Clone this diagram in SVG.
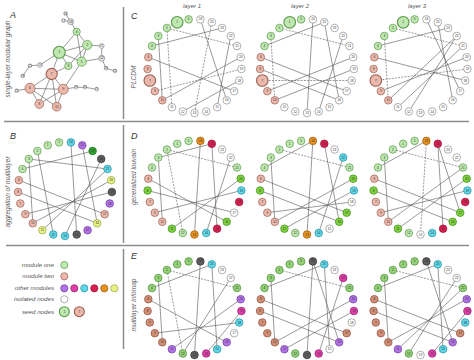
<svg xmlns="http://www.w3.org/2000/svg" width="474" height="360" viewBox="0 0 474 360">
<style>
text{font-family:"Liberation Sans",Arial,sans-serif}
.let{font-size:9px;font-style:italic;fill:#333}
.ttl{font-size:6px;font-style:italic;fill:#555;text-anchor:middle}
.side{font-size:6.5px;font-style:italic;fill:#666;text-anchor:middle}
.lg{font-size:6.2px;font-style:italic;fill:#555;text-anchor:end}
.div{stroke:#8c8c8c;stroke-width:1.5;fill:none}
.ed line{stroke:#555;stroke-width:0.6}
.ed .d{stroke-dasharray:2 1.2}
.n circle{stroke-width:0.7}
.n text{font-size:3.2px;fill:#333;text-anchor:middle;dominant-baseline:central}
.n .big{stroke-width:1.1}
.g{fill:#bfe8b0;stroke:#5a9a4a}
.s{fill:#ebb8ac;stroke:#9a5e50}
.w{fill:#fff;stroke:#8e8e8e}
.gr{fill:#e2e2e2;stroke:#8a8a8a}
.gb{fill:#7ed33c;stroke:#3e8a1e}
.or{fill:#e8921e;stroke:#9a5a10}
.cr{fill:#dc1e50;stroke:#8a1030}
.cy{fill:#5ed8e8;stroke:#2a8c9c}
.pu{fill:#b472e8;stroke:#6c3a9c}
.mg{fill:#e03caa;stroke:#8c2064}
.dk{fill:#5e5e5e;stroke:#333}
.yl{fill:#e6f284;stroke:#9aa444}
.dg{fill:#2fa52f;stroke:#1a6a1a}
.eg{fill:#93d276;stroke:#4c8c3c}
.es{fill:#d38f76;stroke:#8c4c38}
</style>

<!-- dividers -->
<g id="dividers" class="div">
<line x1="4" y1="121.5" x2="469" y2="121.5"/>
<line x1="6" y1="245.5" x2="469" y2="245.5"/>
<line x1="123.5" y1="7" x2="123.5" y2="119"/>
<line x1="123.5" y1="125" x2="123.5" y2="243"/>
<line x1="123.5" y1="249" x2="123.5" y2="349"/>
</g>

<!-- titles -->
<text class="let" x="10" y="18">A</text>
<text class="let" x="10" y="139">B</text>
<text class="let" x="131" y="19">C</text>
<text class="let" x="131" y="139">D</text>
<text class="let" x="131" y="259">E</text>
<text class="ttl" x="192" y="7.5">layer 1</text>
<text class="ttl" x="300" y="7.5">layer 2</text>
<text class="ttl" x="417" y="7.5">layer 3</text>
<text class="side" transform="translate(10,59) rotate(-90)">single-layer modular graph</text>
<text class="side" transform="translate(10,192) rotate(-90)">aggregation of multilayer</text>
<text class="side" transform="translate(136,77) rotate(-90)">PLCDM</text>
<text class="side" transform="translate(136,177) rotate(-90)">generalized louvain</text>
<text class="side" transform="translate(136,305) rotate(-90)">multilayer infomap</text>

<!-- Panel A -->
<g id="panelA">
<g class="ed" id="A-edges">
<line x1="76.7" y1="31.7" x2="59.3" y2="52.3"/>
<line x1="76.7" y1="31.7" x2="87.3" y2="45"/>
<line x1="76.7" y1="31.7" x2="81.7" y2="61.7"/>
<line x1="76.7" y1="31.7" x2="70.7" y2="21.7"/>
<line x1="70.7" y1="21.7" x2="63.5" y2="20.5"/>
<line x1="70.7" y1="21.7" x2="65.5" y2="13.5"/>
<line x1="59.3" y1="52.3" x2="87.3" y2="45"/>
<line x1="59.3" y1="52.3" x2="68.3" y2="66"/>
<line x1="59.3" y1="52.3" x2="81.7" y2="61.7"/>
<line x1="87.3" y1="45" x2="81.7" y2="61.7"/>
<line x1="87.3" y1="45" x2="68.3" y2="66"/>
<line x1="87.3" y1="45" x2="101.7" y2="46"/>
<line x1="101.7" y1="46" x2="101.7" y2="58.3"/>
<line x1="81.7" y1="61.7" x2="101.7" y2="58.3"/>
<line x1="101.7" y1="58.3" x2="106" y2="68.3"/>
<line x1="106" y1="68.3" x2="115" y2="71"/>
<line x1="59.3" y1="52.3" x2="40" y2="65"/>
<line x1="40" y1="65" x2="30" y2="65.7"/>
<line x1="30" y1="65.7" x2="22.7" y2="76"/>
<line x1="59.3" y1="52.3" x2="51.7" y2="74"/>
<line x1="68.3" y1="66" x2="51.7" y2="74"/>
<line x1="51.7" y1="74" x2="30" y2="88.3"/>
<line x1="51.7" y1="74" x2="63.3" y2="89.3"/>
<line x1="51.7" y1="74" x2="39.3" y2="104"/>
<line x1="51.7" y1="74" x2="56.7" y2="106.7"/>
<line x1="30" y1="88.3" x2="63.3" y2="89.3"/>
<line x1="30" y1="88.3" x2="39.3" y2="104"/>
<line x1="30" y1="88.3" x2="56.7" y2="106.7"/>
<line x1="63.3" y1="89.3" x2="56.7" y2="106.7"/>
<line x1="63.3" y1="89.3" x2="39.3" y2="104"/>
<line x1="30" y1="88.3" x2="16.7" y2="90.7"/>
<line x1="63.3" y1="89.3" x2="76" y2="87.3"/>
<line x1="76" y1="87.3" x2="85" y2="87.3"/>
<line x1="85" y1="87.3" x2="96.7" y2="89.3"/>
<line x1="81.7" y1="61.7" x2="63.3" y2="89.3"/>
</g>
<g id="A-4" class="n"><circle class="g" cx="76.7" cy="31.7" r="3.6"/><text x="76.7" y="31.7">4</text></g>
<g id="A-2" class="n"><circle class="g" cx="87.3" cy="45" r="4.6"/><text x="87.3" y="45">2</text></g>
<g id="A-1" class="n"><circle class="g big" cx="59.3" cy="52.3" r="6"/><text x="59.3" y="52.3">1</text></g>
<g id="A-3" class="n"><circle class="g" cx="68.3" cy="66" r="3.6"/><text x="68.3" y="66">3</text></g>
<g id="A-5" class="n"><circle class="g" cx="81.7" cy="61.7" r="4.6"/><text x="81.7" y="61.7">5</text></g>
<g id="A-7" class="n"><circle class="s big" cx="51.7" cy="74" r="5.6"/><text x="51.7" y="74">7</text></g>
<g id="A-6" class="n"><circle class="s" cx="30" cy="88.3" r="5"/><text x="30" y="88.3">6</text></g>
<g id="A-9" class="n"><circle class="s" cx="63.3" cy="89.3" r="5"/><text x="63.3" y="89.3">9</text></g>
<g id="A-8" class="n"><circle class="s" cx="39.3" cy="104" r="4.4"/><text x="39.3" y="104">8</text></g>
<g id="A-10" class="n"><circle class="s" cx="56.7" cy="106.7" r="4.4"/><text x="56.7" y="106.7">10</text></g>
<g id="A-13" class="n"><circle class="gr" cx="70.7" cy="21.7" r="3"/><text x="70.7" y="21.7">13</text></g>
<g id="A-17" class="n"><circle class="w" cx="63.5" cy="20.5" r="1.8"/><text x="63.5" y="20.5">17</text></g>
<g id="A-18" class="n"><circle class="w" cx="65.5" cy="13.5" r="1.8"/><text x="65.5" y="13.5">18</text></g>
<g id="A-11" class="n"><circle class="w" cx="101.7" cy="46" r="2.4"/><text x="101.7" y="46">11</text></g>
<g id="A-12" class="n"><circle class="gr" cx="101.7" cy="58.3" r="3"/><text x="101.7" y="58.3">12</text></g>
<g id="A-24" class="n"><circle class="w" cx="106" cy="68.3" r="1.8"/><text x="106" y="68.3">24</text></g>
<g id="A-25" class="n"><circle class="w" cx="115" cy="71" r="1.8"/><text x="115" y="71">25</text></g>
<g id="A-14" class="n"><circle class="w" cx="40" cy="65" r="2.4"/><text x="40" y="65">14</text></g>
<g id="A-15" class="n"><circle class="w" cx="30" cy="65.7" r="1.8"/><text x="30" y="65.7">15</text></g>
<g id="A-16" class="n"><circle class="w" cx="22.7" cy="76" r="1.8"/><text x="22.7" y="76">16</text></g>
<g id="A-22" class="n"><circle class="w" cx="16.7" cy="90.7" r="1.8"/><text x="16.7" y="90.7">22</text></g>
<g id="A-19" class="n"><circle class="w" cx="76" cy="87.3" r="1.8"/><text x="76" y="87.3">19</text></g>
<g id="A-20" class="n"><circle class="w" cx="85" cy="87.3" r="1.8"/><text x="85" y="87.3">20</text></g>
<g id="A-21" class="n"><circle class="w" cx="96.7" cy="89.3" r="1.8"/><text x="96.7" y="89.3">21</text></g>
</g>

<!-- Legend -->
<g id="legend">
<text class="lg" x="54" y="267">module one</text>
<text class="lg" x="54" y="278">module two</text>
<text class="lg" x="54" y="290">other modules</text>
<text class="lg" x="54" y="301">isolated nodes</text>
<text class="lg" x="54" y="313.5">seed nodes</text>
<g class="n">
<circle class="g" cx="64.3" cy="265" r="3.6"/>
<circle class="s" cx="64.3" cy="276.3" r="3.6"/>
<circle class="pu" cx="64.3" cy="288.3" r="3.6"/>
<circle class="mg" cx="74.3" cy="288.3" r="3.6"/>
<circle class="cy" cx="84.3" cy="288.3" r="3.6"/>
<circle class="cr" cx="94.3" cy="288.3" r="3.6"/>
<circle class="or" cx="104.3" cy="288.3" r="3.6"/>
<circle class="yl" cx="114.3" cy="288.3" r="3.6"/>
<circle class="w" cx="64.3" cy="299.3" r="3.6"/>
<circle class="g big" cx="64.3" cy="311.7" r="5"/><text x="64.3" y="311.7">1</text>
<circle class="s big" cx="79.3" cy="311.7" r="5"/><text x="79.3" y="311.7">7</text>
</g>
</g>

<!-- Panel B -->
<g id="panelB" transform="translate(65,189)">
<g class="ed" id="B-edges">
<line x1="-42.5" y1="-20" x2="27.6" y2="-38"/>
<line x1="-36.2" y1="-30" x2="42.5" y2="-20"/>
<line x1="-27.6" y1="-38" x2="-11.7" y2="45.5"/>
<line x1="-36.2" y1="-30" x2="-32.2" y2="34.3"/>
<line x1="5.9" y1="-46.6" x2="11.7" y2="45.5"/>
<line x1="17.3" y1="-43.7" x2="32.2" y2="34.3"/>
<line x1="-46.2" y1="-8.8" x2="39.7" y2="25.2"/>
<line x1="-46.9" y1="3" x2="32.2" y2="34.3"/>
<line x1="-32.2" y1="34.3" x2="46.2" y2="-8.8"/>
<line x1="-22.6" y1="41.2" x2="42.5" y2="-20"/>
<line x1="-39.7" y1="25.2" x2="46.9" y2="3"/>
<line x1="36.2" y1="-30" x2="0" y2="47"/>
</g>
<g id="B-k0" class="n"><circle class="cy" cx="5.9" cy="-46.6" r="3.8"/><text x="5.9" y="-46.6">24</text></g>
<g id="B-k1" class="n"><circle class="pu" cx="17.3" cy="-43.7" r="3.8"/><text x="17.3" y="-43.7">25</text></g>
<g id="B-k2" class="n"><circle class="dg" cx="27.6" cy="-38" r="3.8"/><text x="27.6" y="-38">23</text></g>
<g id="B-k3" class="n"><circle class="dk" cx="36.2" cy="-30" r="3.8"/><text x="36.2" y="-30">22</text></g>
<g id="B-k4" class="n"><circle class="cy" cx="42.5" cy="-20" r="3.8"/><text x="42.5" y="-20">21</text></g>
<g id="B-k5" class="n"><circle class="yl" cx="46.2" cy="-8.8" r="3.8"/><text x="46.2" y="-8.8">20</text></g>
<g id="B-k6" class="n"><circle class="dk" cx="46.9" cy="3" r="3.8"/><text x="46.9" y="3">19</text></g>
<g id="B-k7" class="n"><circle class="pu" cx="44.7" cy="14.5" r="3.8"/><text x="44.7" y="14.5">18</text></g>
<g id="B-k8" class="n"><circle class="s" cx="39.7" cy="25.2" r="3.8"/><text x="39.7" y="25.2">17</text></g>
<g id="B-k9" class="n"><circle class="yl" cx="32.2" cy="34.3" r="3.8"/><text x="32.2" y="34.3">16</text></g>
<g id="B-k10" class="n"><circle class="pu" cx="22.6" cy="41.2" r="3.8"/><text x="22.6" y="41.2">15</text></g>
<g id="B-k11" class="n"><circle class="dk" cx="11.7" cy="45.5" r="3.8"/><text x="11.7" y="45.5">14</text></g>
<g id="B-k12" class="n"><circle class="cy" cx="0" cy="47" r="3.8"/><text x="0" y="47">13</text></g>
<g id="B-k13" class="n"><circle class="cy" cx="-11.7" cy="45.5" r="3.8"/><text x="-11.7" y="45.5">12</text></g>
<g id="B-k14" class="n"><circle class="yl" cx="-22.6" cy="41.2" r="3.8"/><text x="-22.6" y="41.2">11</text></g>
<g id="B-k15" class="n"><circle class="s" cx="-32.2" cy="34.3" r="3.8"/><text x="-32.2" y="34.3">10</text></g>
<g id="B-k16" class="n"><circle class="s" cx="-39.7" cy="25.2" r="3.8"/><text x="-39.7" y="25.2">9</text></g>
<g id="B-k17" class="n"><circle class="s" cx="-44.7" cy="14.5" r="3.8"/><text x="-44.7" y="14.5">7</text></g>
<g id="B-k18" class="n"><circle class="s" cx="-46.9" cy="3" r="3.8"/><text x="-46.9" y="3">8</text></g>
<g id="B-k19" class="n"><circle class="s" cx="-46.2" cy="-8.8" r="3.8"/><text x="-46.2" y="-8.8">6</text></g>
<g id="B-k20" class="n"><circle class="g" cx="-42.5" cy="-20" r="3.8"/><text x="-42.5" y="-20">4</text></g>
<g id="B-k21" class="n"><circle class="g" cx="-36.2" cy="-30" r="3.8"/><text x="-36.2" y="-30">3</text></g>
<g id="B-k22" class="n"><circle class="g" cx="-27.6" cy="-38" r="3.8"/><text x="-27.6" y="-38">2</text></g>
<g id="B-k23" class="n"><circle class="g" cx="-17.3" cy="-43.7" r="3.8"/><text x="-17.3" y="-43.7">1</text></g>
<g id="B-k24" class="n"><circle class="g" cx="-5.9" cy="-46.6" r="3.8"/><text x="-5.9" y="-46.6">5</text></g>
</g>

<!-- Panel C layer 1 -->
<g id="panelC1" transform="translate(194.5,66)">
<g class="ed" id="C1-edges">
<line class="d" x1="-27.6" y1="-38" x2="42.5" y2="-20"/>
<line x1="-42.5" y1="-20" x2="27.6" y2="-38"/>
<line class="d" x1="-27.6" y1="-38" x2="-22.6" y2="41.2"/>
<line x1="-36.2" y1="-30" x2="-32.2" y2="34.3"/>
<line x1="5.9" y1="-46.6" x2="32.2" y2="34.3"/>
<line class="d" x1="17.3" y1="-43.7" x2="0" y2="47"/>
<line x1="-46.2" y1="-8.8" x2="39.7" y2="25.2"/>
<line x1="-32.2" y1="34.3" x2="46.2" y2="-8.8"/>
<line x1="36.2" y1="-30" x2="22.6" y2="41.2"/>
<line class="d" x1="-39.7" y1="25.2" x2="46.9" y2="3"/>
<line x1="-11.7" y1="45.5" x2="44.7" y2="14.5"/>
</g>
<g id="C1-k0" class="n"><circle class="w" cx="5.9" cy="-46.6" r="3.8"/><text x="5.9" y="-46.6">24</text></g>
<g id="C1-k1" class="n"><circle class="w" cx="17.3" cy="-43.7" r="3.8"/><text x="17.3" y="-43.7">25</text></g>
<g id="C1-k2" class="n"><circle class="w" cx="27.6" cy="-38" r="3.8"/><text x="27.6" y="-38">23</text></g>
<g id="C1-k3" class="n"><circle class="w" cx="36.2" cy="-30" r="3.8"/><text x="36.2" y="-30">22</text></g>
<g id="C1-k4" class="n"><circle class="w" cx="42.5" cy="-20" r="3.8"/><text x="42.5" y="-20">21</text></g>
<g id="C1-k5" class="n"><circle class="w" cx="46.2" cy="-8.8" r="3.8"/><text x="46.2" y="-8.8">20</text></g>
<g id="C1-k6" class="n"><circle class="w" cx="46.9" cy="3" r="3.8"/><text x="46.9" y="3">19</text></g>
<g id="C1-k7" class="n"><circle class="w" cx="44.7" cy="14.5" r="3.8"/><text x="44.7" y="14.5">18</text></g>
<g id="C1-k8" class="n"><circle class="w" cx="39.7" cy="25.2" r="3.8"/><text x="39.7" y="25.2">17</text></g>
<g id="C1-k9" class="n"><circle class="w" cx="32.2" cy="34.3" r="3.8"/><text x="32.2" y="34.3">16</text></g>
<g id="C1-k10" class="n"><circle class="w" cx="22.6" cy="41.2" r="3.8"/><text x="22.6" y="41.2">15</text></g>
<g id="C1-k11" class="n"><circle class="w" cx="11.7" cy="45.5" r="3.8"/><text x="11.7" y="45.5">14</text></g>
<g id="C1-k12" class="n"><circle class="w" cx="0" cy="47" r="3.8"/><text x="0" y="47">13</text></g>
<g id="C1-k13" class="n"><circle class="w" cx="-11.7" cy="45.5" r="3.8"/><text x="-11.7" y="45.5">12</text></g>
<g id="C1-k14" class="n"><circle class="w" cx="-22.6" cy="41.2" r="3.8"/><text x="-22.6" y="41.2">11</text></g>
<g id="C1-k15" class="n"><circle class="s" cx="-32.2" cy="34.3" r="3.8"/><text x="-32.2" y="34.3">10</text></g>
<g id="C1-k16" class="n"><circle class="s" cx="-39.7" cy="25.2" r="3.8"/><text x="-39.7" y="25.2">9</text></g>
<g id="C1-k17" class="n"><circle class="s big" cx="-44.7" cy="14.5" r="5.8"/><text x="-44.7" y="14.5">7</text></g>
<g id="C1-k18" class="n"><circle class="s" cx="-46.9" cy="3" r="3.8"/><text x="-46.9" y="3">8</text></g>
<g id="C1-k19" class="n"><circle class="s" cx="-46.2" cy="-8.8" r="3.8"/><text x="-46.2" y="-8.8">6</text></g>
<g id="C1-k20" class="n"><circle class="g" cx="-42.5" cy="-20" r="3.8"/><text x="-42.5" y="-20">4</text></g>
<g id="C1-k21" class="n"><circle class="g" cx="-36.2" cy="-30" r="3.8"/><text x="-36.2" y="-30">3</text></g>
<g id="C1-k22" class="n"><circle class="g" cx="-27.6" cy="-38" r="3.8"/><text x="-27.6" y="-38">2</text></g>
<g id="C1-k23" class="n"><circle class="g big" cx="-17.3" cy="-43.7" r="5.8"/><text x="-17.3" y="-43.7">1</text></g>
<g id="C1-k24" class="n"><circle class="g" cx="-5.9" cy="-46.6" r="3.8"/><text x="-5.9" y="-46.6">5</text></g>
</g>

<!-- Panel C layer 2 -->
<g id="panelC2" transform="translate(307,66)">
<g class="ed" id="C2-edges">
<line class="d" x1="-27.6" y1="-38" x2="42.5" y2="-20"/>
<line x1="-42.5" y1="-20" x2="17.3" y2="-43.7"/>
<line class="d" x1="-36.2" y1="-30" x2="-32.2" y2="34.3"/>
<line x1="5.9" y1="-46.6" x2="0" y2="47"/>
<line x1="17.3" y1="-43.7" x2="32.2" y2="34.3"/>
<line x1="-46.2" y1="-8.8" x2="39.7" y2="25.2"/>
<line x1="-46.9" y1="3" x2="32.2" y2="34.3"/>
<line x1="-39.7" y1="25.2" x2="46.2" y2="-8.8"/>
<line x1="-32.2" y1="34.3" x2="46.9" y2="3"/>
<line x1="36.2" y1="-30" x2="11.7" y2="45.5"/>
<line class="d" x1="-44.7" y1="14.5" x2="44.7" y2="14.5"/>
</g>
<g id="C2-k0" class="n"><circle class="w" cx="5.9" cy="-46.6" r="3.8"/><text x="5.9" y="-46.6">24</text></g>
<g id="C2-k1" class="n"><circle class="w" cx="17.3" cy="-43.7" r="3.8"/><text x="17.3" y="-43.7">25</text></g>
<g id="C2-k2" class="n"><circle class="w" cx="27.6" cy="-38" r="3.8"/><text x="27.6" y="-38">23</text></g>
<g id="C2-k3" class="n"><circle class="w" cx="36.2" cy="-30" r="3.8"/><text x="36.2" y="-30">22</text></g>
<g id="C2-k4" class="n"><circle class="w" cx="42.5" cy="-20" r="3.8"/><text x="42.5" y="-20">21</text></g>
<g id="C2-k5" class="n"><circle class="w" cx="46.2" cy="-8.8" r="3.8"/><text x="46.2" y="-8.8">20</text></g>
<g id="C2-k6" class="n"><circle class="w" cx="46.9" cy="3" r="3.8"/><text x="46.9" y="3">19</text></g>
<g id="C2-k7" class="n"><circle class="w" cx="44.7" cy="14.5" r="3.8"/><text x="44.7" y="14.5">18</text></g>
<g id="C2-k8" class="n"><circle class="w" cx="39.7" cy="25.2" r="3.8"/><text x="39.7" y="25.2">17</text></g>
<g id="C2-k9" class="n"><circle class="w" cx="32.2" cy="34.3" r="3.8"/><text x="32.2" y="34.3">16</text></g>
<g id="C2-k10" class="n"><circle class="w" cx="22.6" cy="41.2" r="3.8"/><text x="22.6" y="41.2">15</text></g>
<g id="C2-k11" class="n"><circle class="w" cx="11.7" cy="45.5" r="3.8"/><text x="11.7" y="45.5">14</text></g>
<g id="C2-k12" class="n"><circle class="w" cx="0" cy="47" r="3.8"/><text x="0" y="47">13</text></g>
<g id="C2-k13" class="n"><circle class="w" cx="-11.7" cy="45.5" r="3.8"/><text x="-11.7" y="45.5">12</text></g>
<g id="C2-k14" class="n"><circle class="w" cx="-22.6" cy="41.2" r="3.8"/><text x="-22.6" y="41.2">11</text></g>
<g id="C2-k15" class="n"><circle class="s" cx="-32.2" cy="34.3" r="3.8"/><text x="-32.2" y="34.3">10</text></g>
<g id="C2-k16" class="n"><circle class="s" cx="-39.7" cy="25.2" r="3.8"/><text x="-39.7" y="25.2">9</text></g>
<g id="C2-k17" class="n"><circle class="s big" cx="-44.7" cy="14.5" r="5.8"/><text x="-44.7" y="14.5">7</text></g>
<g id="C2-k18" class="n"><circle class="s" cx="-46.9" cy="3" r="3.8"/><text x="-46.9" y="3">8</text></g>
<g id="C2-k19" class="n"><circle class="s" cx="-46.2" cy="-8.8" r="3.8"/><text x="-46.2" y="-8.8">6</text></g>
<g id="C2-k20" class="n"><circle class="g" cx="-42.5" cy="-20" r="3.8"/><text x="-42.5" y="-20">4</text></g>
<g id="C2-k21" class="n"><circle class="g" cx="-36.2" cy="-30" r="3.8"/><text x="-36.2" y="-30">3</text></g>
<g id="C2-k22" class="n"><circle class="g" cx="-27.6" cy="-38" r="3.8"/><text x="-27.6" y="-38">2</text></g>
<g id="C2-k23" class="n"><circle class="g big" cx="-17.3" cy="-43.7" r="5.8"/><text x="-17.3" y="-43.7">1</text></g>
<g id="C2-k24" class="n"><circle class="g" cx="-5.9" cy="-46.6" r="3.8"/><text x="-5.9" y="-46.6">5</text></g>
</g>

<!-- Panel C layer 3 -->
<g id="panelC3" transform="translate(420.5,66)">
<g class="ed" id="C3-edges">
<line x1="-42.5" y1="-20" x2="27.6" y2="-38"/>
<line class="d" x1="-27.6" y1="-38" x2="42.5" y2="-20"/>
<line x1="17.3" y1="-43.7" x2="32.2" y2="34.3"/>
<line x1="5.9" y1="-46.6" x2="39.7" y2="25.2"/>
<line class="d" x1="-36.2" y1="-30" x2="-32.2" y2="34.3"/>
<line x1="-46.2" y1="-8.8" x2="44.7" y2="14.5"/>
<line x1="-32.2" y1="34.3" x2="36.2" y2="-30"/>
<line x1="-39.7" y1="25.2" x2="46.2" y2="-8.8"/>
<line class="d" x1="-44.7" y1="14.5" x2="46.9" y2="3"/>
<line x1="-11.7" y1="45.5" x2="36.2" y2="-30"/>
<line x1="-22.6" y1="41.2" x2="42.5" y2="-20"/>
</g>
<g id="C3-k0" class="n"><circle class="w" cx="5.9" cy="-46.6" r="3.8"/><text x="5.9" y="-46.6">24</text></g>
<g id="C3-k1" class="n"><circle class="w" cx="17.3" cy="-43.7" r="3.8"/><text x="17.3" y="-43.7">25</text></g>
<g id="C3-k2" class="n"><circle class="w" cx="27.6" cy="-38" r="3.8"/><text x="27.6" y="-38">23</text></g>
<g id="C3-k3" class="n"><circle class="w" cx="36.2" cy="-30" r="3.8"/><text x="36.2" y="-30">22</text></g>
<g id="C3-k4" class="n"><circle class="w" cx="42.5" cy="-20" r="3.8"/><text x="42.5" y="-20">21</text></g>
<g id="C3-k5" class="n"><circle class="w" cx="46.2" cy="-8.8" r="3.8"/><text x="46.2" y="-8.8">20</text></g>
<g id="C3-k6" class="n"><circle class="w" cx="46.9" cy="3" r="3.8"/><text x="46.9" y="3">19</text></g>
<g id="C3-k7" class="n"><circle class="w" cx="44.7" cy="14.5" r="3.8"/><text x="44.7" y="14.5">18</text></g>
<g id="C3-k8" class="n"><circle class="w" cx="39.7" cy="25.2" r="3.8"/><text x="39.7" y="25.2">17</text></g>
<g id="C3-k9" class="n"><circle class="w" cx="32.2" cy="34.3" r="3.8"/><text x="32.2" y="34.3">16</text></g>
<g id="C3-k10" class="n"><circle class="w" cx="22.6" cy="41.2" r="3.8"/><text x="22.6" y="41.2">15</text></g>
<g id="C3-k11" class="n"><circle class="w" cx="11.7" cy="45.5" r="3.8"/><text x="11.7" y="45.5">14</text></g>
<g id="C3-k12" class="n"><circle class="w" cx="0" cy="47" r="3.8"/><text x="0" y="47">13</text></g>
<g id="C3-k13" class="n"><circle class="w" cx="-11.7" cy="45.5" r="3.8"/><text x="-11.7" y="45.5">12</text></g>
<g id="C3-k14" class="n"><circle class="w" cx="-22.6" cy="41.2" r="3.8"/><text x="-22.6" y="41.2">11</text></g>
<g id="C3-k15" class="n"><circle class="s" cx="-32.2" cy="34.3" r="3.8"/><text x="-32.2" y="34.3">10</text></g>
<g id="C3-k16" class="n"><circle class="s" cx="-39.7" cy="25.2" r="3.8"/><text x="-39.7" y="25.2">9</text></g>
<g id="C3-k17" class="n"><circle class="s big" cx="-44.7" cy="14.5" r="5.8"/><text x="-44.7" y="14.5">7</text></g>
<g id="C3-k18" class="n"><circle class="s" cx="-46.9" cy="3" r="3.8"/><text x="-46.9" y="3">8</text></g>
<g id="C3-k19" class="n"><circle class="s" cx="-46.2" cy="-8.8" r="3.8"/><text x="-46.2" y="-8.8">6</text></g>
<g id="C3-k20" class="n"><circle class="g" cx="-42.5" cy="-20" r="3.8"/><text x="-42.5" y="-20">4</text></g>
<g id="C3-k21" class="n"><circle class="g" cx="-36.2" cy="-30" r="3.8"/><text x="-36.2" y="-30">3</text></g>
<g id="C3-k22" class="n"><circle class="g" cx="-27.6" cy="-38" r="3.8"/><text x="-27.6" y="-38">2</text></g>
<g id="C3-k23" class="n"><circle class="g big" cx="-17.3" cy="-43.7" r="5.8"/><text x="-17.3" y="-43.7">1</text></g>
<g id="C3-k24" class="n"><circle class="g" cx="-5.9" cy="-46.6" r="3.8"/><text x="-5.9" y="-46.6">5</text></g>
</g>

<!-- Panel D layer 1 -->
<g id="panelD1" transform="translate(194.5,187.5)">
<g class="ed" id="D1-edges">
<line class="d" x1="-27.6" y1="-38" x2="42.5" y2="-20"/>
<line x1="-36.2" y1="-30" x2="17.3" y2="-43.7"/>
<line class="d" x1="-27.6" y1="-38" x2="-11.7" y2="45.5"/>
<line x1="-36.2" y1="-30" x2="-32.2" y2="34.3"/>
<line x1="5.9" y1="-46.6" x2="0" y2="47"/>
<line x1="17.3" y1="-43.7" x2="22.6" y2="41.2"/>
<line x1="-46.2" y1="-8.8" x2="32.2" y2="34.3"/>
<line x1="-22.6" y1="41.2" x2="46.2" y2="-8.8"/>
<line x1="-46.9" y1="3" x2="39.7" y2="25.2"/>
<line x1="-39.7" y1="25.2" x2="46.9" y2="3"/>
<line x1="36.2" y1="-30" x2="11.7" y2="45.5"/>
</g>
<g id="D1-k0" class="n"><circle class="or" cx="5.9" cy="-46.6" r="3.8"/><text x="5.9" y="-46.6">24</text></g>
<g id="D1-k1" class="n"><circle class="cr" cx="17.3" cy="-43.7" r="3.8"/><text x="17.3" y="-43.7">25</text></g>
<g id="D1-k2" class="n"><circle class="w" cx="27.6" cy="-38" r="3.8"/><text x="27.6" y="-38">23</text></g>
<g id="D1-k3" class="n"><circle class="w" cx="36.2" cy="-30" r="3.8"/><text x="36.2" y="-30">22</text></g>
<g id="D1-k4" class="n"><circle class="g" cx="42.5" cy="-20" r="3.8"/><text x="42.5" y="-20">21</text></g>
<g id="D1-k5" class="n"><circle class="gb" cx="46.2" cy="-8.8" r="3.8"/><text x="46.2" y="-8.8">20</text></g>
<g id="D1-k6" class="n"><circle class="cy" cx="46.9" cy="3" r="3.8"/><text x="46.9" y="3">19</text></g>
<g id="D1-k7" class="n"><circle class="cr" cx="44.7" cy="14.5" r="3.8"/><text x="44.7" y="14.5">18</text></g>
<g id="D1-k8" class="n"><circle class="w" cx="39.7" cy="25.2" r="3.8"/><text x="39.7" y="25.2">17</text></g>
<g id="D1-k9" class="n"><circle class="gb" cx="32.2" cy="34.3" r="3.8"/><text x="32.2" y="34.3">16</text></g>
<g id="D1-k10" class="n"><circle class="cr" cx="22.6" cy="41.2" r="3.8"/><text x="22.6" y="41.2">15</text></g>
<g id="D1-k11" class="n"><circle class="cy" cx="11.7" cy="45.5" r="3.8"/><text x="11.7" y="45.5">14</text></g>
<g id="D1-k12" class="n"><circle class="or" cx="0" cy="47" r="3.8"/><text x="0" y="47">13</text></g>
<g id="D1-k13" class="n"><circle class="g" cx="-11.7" cy="45.5" r="3.8"/><text x="-11.7" y="45.5">12</text></g>
<g id="D1-k14" class="n"><circle class="gb" cx="-22.6" cy="41.2" r="3.8"/><text x="-22.6" y="41.2">11</text></g>
<g id="D1-k15" class="n"><circle class="s" cx="-32.2" cy="34.3" r="3.8"/><text x="-32.2" y="34.3">10</text></g>
<g id="D1-k16" class="n"><circle class="s" cx="-39.7" cy="25.2" r="3.8"/><text x="-39.7" y="25.2">9</text></g>
<g id="D1-k17" class="n"><circle class="s" cx="-44.7" cy="14.5" r="3.8"/><text x="-44.7" y="14.5">7</text></g>
<g id="D1-k18" class="n"><circle class="gb" cx="-46.9" cy="3" r="3.8"/><text x="-46.9" y="3">8</text></g>
<g id="D1-k19" class="n"><circle class="s" cx="-46.2" cy="-8.8" r="3.8"/><text x="-46.2" y="-8.8">6</text></g>
<g id="D1-k20" class="n"><circle class="g" cx="-42.5" cy="-20" r="3.8"/><text x="-42.5" y="-20">4</text></g>
<g id="D1-k21" class="n"><circle class="g" cx="-36.2" cy="-30" r="3.8"/><text x="-36.2" y="-30">3</text></g>
<g id="D1-k22" class="n"><circle class="g" cx="-27.6" cy="-38" r="3.8"/><text x="-27.6" y="-38">2</text></g>
<g id="D1-k23" class="n"><circle class="g" cx="-17.3" cy="-43.7" r="3.8"/><text x="-17.3" y="-43.7">1</text></g>
<g id="D1-k24" class="n"><circle class="g" cx="-5.9" cy="-46.6" r="3.8"/><text x="-5.9" y="-46.6">5</text></g>
</g>

<!-- Panel D layer 2 -->
<g id="panelD2" transform="translate(307,187.5)">
<g class="ed" id="D2-edges">
<line class="d" x1="-27.6" y1="-38" x2="42.5" y2="-20"/>
<line x1="-42.5" y1="-20" x2="5.9" y2="-46.6"/>
<line x1="-36.2" y1="-30" x2="-32.2" y2="34.3"/>
<line x1="5.9" y1="-46.6" x2="0" y2="47"/>
<line x1="17.3" y1="-43.7" x2="32.2" y2="34.3"/>
<line x1="-46.2" y1="-8.8" x2="39.7" y2="25.2"/>
<line x1="-46.9" y1="3" x2="32.2" y2="34.3"/>
<line x1="-32.2" y1="34.3" x2="46.2" y2="-8.8"/>
<line x1="-22.6" y1="41.2" x2="46.9" y2="3"/>
<line x1="36.2" y1="-30" x2="11.7" y2="45.5"/>
<line x1="-39.7" y1="25.2" x2="44.7" y2="14.5"/>
</g>
<g id="D2-k0" class="n"><circle class="or" cx="5.9" cy="-46.6" r="3.8"/><text x="5.9" y="-46.6">24</text></g>
<g id="D2-k1" class="n"><circle class="cr" cx="17.3" cy="-43.7" r="3.8"/><text x="17.3" y="-43.7">25</text></g>
<g id="D2-k2" class="n"><circle class="w" cx="27.6" cy="-38" r="3.8"/><text x="27.6" y="-38">23</text></g>
<g id="D2-k3" class="n"><circle class="cy" cx="36.2" cy="-30" r="3.8"/><text x="36.2" y="-30">22</text></g>
<g id="D2-k4" class="n"><circle class="g" cx="42.5" cy="-20" r="3.8"/><text x="42.5" y="-20">21</text></g>
<g id="D2-k5" class="n"><circle class="gb" cx="46.2" cy="-8.8" r="3.8"/><text x="46.2" y="-8.8">20</text></g>
<g id="D2-k6" class="n"><circle class="cy" cx="46.9" cy="3" r="3.8"/><text x="46.9" y="3">19</text></g>
<g id="D2-k7" class="n"><circle class="w" cx="44.7" cy="14.5" r="3.8"/><text x="44.7" y="14.5">18</text></g>
<g id="D2-k8" class="n"><circle class="gb" cx="39.7" cy="25.2" r="3.8"/><text x="39.7" y="25.2">17</text></g>
<g id="D2-k9" class="n"><circle class="gb" cx="32.2" cy="34.3" r="3.8"/><text x="32.2" y="34.3">16</text></g>
<g id="D2-k10" class="n"><circle class="w" cx="22.6" cy="41.2" r="3.8"/><text x="22.6" y="41.2">15</text></g>
<g id="D2-k11" class="n"><circle class="cy" cx="11.7" cy="45.5" r="3.8"/><text x="11.7" y="45.5">14</text></g>
<g id="D2-k12" class="n"><circle class="or" cx="0" cy="47" r="3.8"/><text x="0" y="47">13</text></g>
<g id="D2-k13" class="n"><circle class="g" cx="-11.7" cy="45.5" r="3.8"/><text x="-11.7" y="45.5">12</text></g>
<g id="D2-k14" class="n"><circle class="gb" cx="-22.6" cy="41.2" r="3.8"/><text x="-22.6" y="41.2">11</text></g>
<g id="D2-k15" class="n"><circle class="s" cx="-32.2" cy="34.3" r="3.8"/><text x="-32.2" y="34.3">10</text></g>
<g id="D2-k16" class="n"><circle class="s" cx="-39.7" cy="25.2" r="3.8"/><text x="-39.7" y="25.2">9</text></g>
<g id="D2-k17" class="n"><circle class="s" cx="-44.7" cy="14.5" r="3.8"/><text x="-44.7" y="14.5">7</text></g>
<g id="D2-k18" class="n"><circle class="gb" cx="-46.9" cy="3" r="3.8"/><text x="-46.9" y="3">8</text></g>
<g id="D2-k19" class="n"><circle class="s" cx="-46.2" cy="-8.8" r="3.8"/><text x="-46.2" y="-8.8">6</text></g>
<g id="D2-k20" class="n"><circle class="g" cx="-42.5" cy="-20" r="3.8"/><text x="-42.5" y="-20">4</text></g>
<g id="D2-k21" class="n"><circle class="g" cx="-36.2" cy="-30" r="3.8"/><text x="-36.2" y="-30">3</text></g>
<g id="D2-k22" class="n"><circle class="g" cx="-27.6" cy="-38" r="3.8"/><text x="-27.6" y="-38">2</text></g>
<g id="D2-k23" class="n"><circle class="g" cx="-17.3" cy="-43.7" r="3.8"/><text x="-17.3" y="-43.7">1</text></g>
<g id="D2-k24" class="n"><circle class="g" cx="-5.9" cy="-46.6" r="3.8"/><text x="-5.9" y="-46.6">5</text></g>
</g>

<!-- Panel D layer 3 -->
<g id="panelD3" transform="translate(420.5,187.5)">
<g class="ed" id="D3-edges">
<line class="d" x1="-27.6" y1="-38" x2="42.5" y2="-20"/>
<line x1="-42.5" y1="-20" x2="5.9" y2="-46.6"/>
<line x1="17.3" y1="-43.7" x2="22.6" y2="41.2"/>
<line x1="17.3" y1="-43.7" x2="39.7" y2="25.2"/>
<line x1="-36.2" y1="-30" x2="-32.2" y2="34.3"/>
<line x1="-46.2" y1="-8.8" x2="39.7" y2="25.2"/>
<line x1="-46.9" y1="3" x2="32.2" y2="34.3"/>
<line x1="-32.2" y1="34.3" x2="42.5" y2="-20"/>
<line x1="-22.6" y1="41.2" x2="46.2" y2="-8.8"/>
<line x1="-39.7" y1="25.2" x2="46.9" y2="3"/>
<line class="d" x1="5.9" y1="-46.6" x2="0" y2="47"/>
</g>
<g id="D3-k0" class="n"><circle class="or" cx="5.9" cy="-46.6" r="3.8"/><text x="5.9" y="-46.6">24</text></g>
<g id="D3-k1" class="n"><circle class="cr" cx="17.3" cy="-43.7" r="3.8"/><text x="17.3" y="-43.7">25</text></g>
<g id="D3-k2" class="n"><circle class="w" cx="27.6" cy="-38" r="3.8"/><text x="27.6" y="-38">23</text></g>
<g id="D3-k3" class="n"><circle class="w" cx="36.2" cy="-30" r="3.8"/><text x="36.2" y="-30">22</text></g>
<g id="D3-k4" class="n"><circle class="g" cx="42.5" cy="-20" r="3.8"/><text x="42.5" y="-20">21</text></g>
<g id="D3-k5" class="n"><circle class="gb" cx="46.2" cy="-8.8" r="3.8"/><text x="46.2" y="-8.8">20</text></g>
<g id="D3-k6" class="n"><circle class="cy" cx="46.9" cy="3" r="3.8"/><text x="46.9" y="3">19</text></g>
<g id="D3-k7" class="n"><circle class="cr" cx="44.7" cy="14.5" r="3.8"/><text x="44.7" y="14.5">18</text></g>
<g id="D3-k8" class="n"><circle class="gb" cx="39.7" cy="25.2" r="3.8"/><text x="39.7" y="25.2">17</text></g>
<g id="D3-k9" class="n"><circle class="gb" cx="32.2" cy="34.3" r="3.8"/><text x="32.2" y="34.3">16</text></g>
<g id="D3-k10" class="n"><circle class="cr" cx="22.6" cy="41.2" r="3.8"/><text x="22.6" y="41.2">15</text></g>
<g id="D3-k11" class="n"><circle class="cy" cx="11.7" cy="45.5" r="3.8"/><text x="11.7" y="45.5">14</text></g>
<g id="D3-k12" class="n"><circle class="w" cx="0" cy="47" r="3.8"/><text x="0" y="47">13</text></g>
<g id="D3-k13" class="n"><circle class="g" cx="-11.7" cy="45.5" r="3.8"/><text x="-11.7" y="45.5">12</text></g>
<g id="D3-k14" class="n"><circle class="gb" cx="-22.6" cy="41.2" r="3.8"/><text x="-22.6" y="41.2">11</text></g>
<g id="D3-k15" class="n"><circle class="s" cx="-32.2" cy="34.3" r="3.8"/><text x="-32.2" y="34.3">10</text></g>
<g id="D3-k16" class="n"><circle class="s" cx="-39.7" cy="25.2" r="3.8"/><text x="-39.7" y="25.2">9</text></g>
<g id="D3-k17" class="n"><circle class="s" cx="-44.7" cy="14.5" r="3.8"/><text x="-44.7" y="14.5">7</text></g>
<g id="D3-k18" class="n"><circle class="gb" cx="-46.9" cy="3" r="3.8"/><text x="-46.9" y="3">8</text></g>
<g id="D3-k19" class="n"><circle class="s" cx="-46.2" cy="-8.8" r="3.8"/><text x="-46.2" y="-8.8">6</text></g>
<g id="D3-k20" class="n"><circle class="g" cx="-42.5" cy="-20" r="3.8"/><text x="-42.5" y="-20">4</text></g>
<g id="D3-k21" class="n"><circle class="g" cx="-36.2" cy="-30" r="3.8"/><text x="-36.2" y="-30">3</text></g>
<g id="D3-k22" class="n"><circle class="g" cx="-27.6" cy="-38" r="3.8"/><text x="-27.6" y="-38">2</text></g>
<g id="D3-k23" class="n"><circle class="g" cx="-17.3" cy="-43.7" r="3.8"/><text x="-17.3" y="-43.7">1</text></g>
<g id="D3-k24" class="n"><circle class="g" cx="-5.9" cy="-46.6" r="3.8"/><text x="-5.9" y="-46.6">5</text></g>
</g>

<!-- Panel E layer 1 -->
<g id="panelE1" transform="translate(194.5,308)">
<g class="ed" id="E1-edges">
<line class="d" x1="-27.6" y1="-38" x2="42.5" y2="-20"/>
<line x1="-42.5" y1="-20" x2="17.3" y2="-43.7"/>
<line x1="-36.2" y1="-30" x2="-32.2" y2="34.3"/>
<line class="d" x1="-27.6" y1="-38" x2="-11.7" y2="45.5"/>
<line x1="5.9" y1="-46.6" x2="0" y2="47"/>
<line x1="-46.2" y1="-8.8" x2="32.2" y2="34.3"/>
<line x1="-22.6" y1="41.2" x2="46.2" y2="-8.8"/>
<line x1="17.3" y1="-43.7" x2="22.6" y2="41.2"/>
<line x1="11.7" y1="45.5" x2="46.9" y2="3"/>
<line x1="-39.7" y1="25.2" x2="44.7" y2="14.5"/>
<line x1="36.2" y1="-30" x2="-11.7" y2="45.5"/>
</g>
<g id="E1-k0" class="n"><circle class="dk" cx="5.9" cy="-46.6" r="3.8"/><text x="5.9" y="-46.6">24</text></g>
<g id="E1-k1" class="n"><circle class="cy" cx="17.3" cy="-43.7" r="3.8"/><text x="17.3" y="-43.7">25</text></g>
<g id="E1-k2" class="n"><circle class="w" cx="27.6" cy="-38" r="3.8"/><text x="27.6" y="-38">23</text></g>
<g id="E1-k3" class="n"><circle class="w" cx="36.2" cy="-30" r="3.8"/><text x="36.2" y="-30">22</text></g>
<g id="E1-k4" class="n"><circle class="eg" cx="42.5" cy="-20" r="3.8"/><text x="42.5" y="-20">21</text></g>
<g id="E1-k5" class="n"><circle class="pu" cx="46.2" cy="-8.8" r="3.8"/><text x="46.2" y="-8.8">20</text></g>
<g id="E1-k6" class="n"><circle class="mg" cx="46.9" cy="3" r="3.8"/><text x="46.9" y="3">19</text></g>
<g id="E1-k7" class="n"><circle class="cy" cx="44.7" cy="14.5" r="3.8"/><text x="44.7" y="14.5">18</text></g>
<g id="E1-k8" class="n"><circle class="w" cx="39.7" cy="25.2" r="3.8"/><text x="39.7" y="25.2">17</text></g>
<g id="E1-k9" class="n"><circle class="pu" cx="32.2" cy="34.3" r="3.8"/><text x="32.2" y="34.3">16</text></g>
<g id="E1-k10" class="n"><circle class="cy" cx="22.6" cy="41.2" r="3.8"/><text x="22.6" y="41.2">15</text></g>
<g id="E1-k11" class="n"><circle class="mg" cx="11.7" cy="45.5" r="3.8"/><text x="11.7" y="45.5">14</text></g>
<g id="E1-k12" class="n"><circle class="dk" cx="0" cy="47" r="3.8"/><text x="0" y="47">13</text></g>
<g id="E1-k13" class="n"><circle class="eg" cx="-11.7" cy="45.5" r="3.8"/><text x="-11.7" y="45.5">12</text></g>
<g id="E1-k14" class="n"><circle class="pu" cx="-22.6" cy="41.2" r="3.8"/><text x="-22.6" y="41.2">11</text></g>
<g id="E1-k15" class="n"><circle class="es" cx="-32.2" cy="34.3" r="3.8"/><text x="-32.2" y="34.3">10</text></g>
<g id="E1-k16" class="n"><circle class="es" cx="-39.7" cy="25.2" r="3.8"/><text x="-39.7" y="25.2">9</text></g>
<g id="E1-k17" class="n"><circle class="es" cx="-44.7" cy="14.5" r="3.8"/><text x="-44.7" y="14.5">7</text></g>
<g id="E1-k18" class="n"><circle class="es" cx="-46.9" cy="3" r="3.8"/><text x="-46.9" y="3">8</text></g>
<g id="E1-k19" class="n"><circle class="es" cx="-46.2" cy="-8.8" r="3.8"/><text x="-46.2" y="-8.8">6</text></g>
<g id="E1-k20" class="n"><circle class="eg" cx="-42.5" cy="-20" r="3.8"/><text x="-42.5" y="-20">4</text></g>
<g id="E1-k21" class="n"><circle class="eg" cx="-36.2" cy="-30" r="3.8"/><text x="-36.2" y="-30">3</text></g>
<g id="E1-k22" class="n"><circle class="eg" cx="-27.6" cy="-38" r="3.8"/><text x="-27.6" y="-38">2</text></g>
<g id="E1-k23" class="n"><circle class="eg" cx="-17.3" cy="-43.7" r="3.8"/><text x="-17.3" y="-43.7">1</text></g>
<g id="E1-k24" class="n"><circle class="eg" cx="-5.9" cy="-46.6" r="3.8"/><text x="-5.9" y="-46.6">5</text></g>
</g>

<!-- Panel E layer 2 -->
<g id="panelE2" transform="translate(307,308)">
<g class="ed" id="E2-edges">
<line class="d" x1="-27.6" y1="-38" x2="42.5" y2="-20"/>
<line x1="-42.5" y1="-20" x2="17.3" y2="-43.7"/>
<line x1="-36.2" y1="-30" x2="-32.2" y2="34.3"/>
<line x1="5.9" y1="-46.6" x2="0" y2="47"/>
<line x1="5.9" y1="-46.6" x2="32.2" y2="34.3"/>
<line x1="-46.2" y1="-8.8" x2="39.7" y2="25.2"/>
<line x1="-46.9" y1="3" x2="32.2" y2="34.3"/>
<line x1="-32.2" y1="34.3" x2="46.2" y2="-8.8"/>
<line x1="-22.6" y1="41.2" x2="46.9" y2="3"/>
<line x1="36.2" y1="-30" x2="11.7" y2="45.5"/>
<line x1="17.3" y1="-43.7" x2="22.6" y2="41.2"/>
</g>
<g id="E2-k0" class="n"><circle class="dk" cx="5.9" cy="-46.6" r="3.8"/><text x="5.9" y="-46.6">24</text></g>
<g id="E2-k1" class="n"><circle class="cy" cx="17.3" cy="-43.7" r="3.8"/><text x="17.3" y="-43.7">25</text></g>
<g id="E2-k2" class="n"><circle class="w" cx="27.6" cy="-38" r="3.8"/><text x="27.6" y="-38">23</text></g>
<g id="E2-k3" class="n"><circle class="mg" cx="36.2" cy="-30" r="3.8"/><text x="36.2" y="-30">22</text></g>
<g id="E2-k4" class="n"><circle class="eg" cx="42.5" cy="-20" r="3.8"/><text x="42.5" y="-20">21</text></g>
<g id="E2-k5" class="n"><circle class="pu" cx="46.2" cy="-8.8" r="3.8"/><text x="46.2" y="-8.8">20</text></g>
<g id="E2-k6" class="n"><circle class="mg" cx="46.9" cy="3" r="3.8"/><text x="46.9" y="3">19</text></g>
<g id="E2-k7" class="n"><circle class="w" cx="44.7" cy="14.5" r="3.8"/><text x="44.7" y="14.5">18</text></g>
<g id="E2-k8" class="n"><circle class="es" cx="39.7" cy="25.2" r="3.8"/><text x="39.7" y="25.2">17</text></g>
<g id="E2-k9" class="n"><circle class="pu" cx="32.2" cy="34.3" r="3.8"/><text x="32.2" y="34.3">16</text></g>
<g id="E2-k10" class="n"><circle class="w" cx="22.6" cy="41.2" r="3.8"/><text x="22.6" y="41.2">15</text></g>
<g id="E2-k11" class="n"><circle class="mg" cx="11.7" cy="45.5" r="3.8"/><text x="11.7" y="45.5">14</text></g>
<g id="E2-k12" class="n"><circle class="dk" cx="0" cy="47" r="3.8"/><text x="0" y="47">13</text></g>
<g id="E2-k13" class="n"><circle class="eg" cx="-11.7" cy="45.5" r="3.8"/><text x="-11.7" y="45.5">12</text></g>
<g id="E2-k14" class="n"><circle class="pu" cx="-22.6" cy="41.2" r="3.8"/><text x="-22.6" y="41.2">11</text></g>
<g id="E2-k15" class="n"><circle class="es" cx="-32.2" cy="34.3" r="3.8"/><text x="-32.2" y="34.3">10</text></g>
<g id="E2-k16" class="n"><circle class="es" cx="-39.7" cy="25.2" r="3.8"/><text x="-39.7" y="25.2">9</text></g>
<g id="E2-k17" class="n"><circle class="es" cx="-44.7" cy="14.5" r="3.8"/><text x="-44.7" y="14.5">7</text></g>
<g id="E2-k18" class="n"><circle class="es" cx="-46.9" cy="3" r="3.8"/><text x="-46.9" y="3">8</text></g>
<g id="E2-k19" class="n"><circle class="es" cx="-46.2" cy="-8.8" r="3.8"/><text x="-46.2" y="-8.8">6</text></g>
<g id="E2-k20" class="n"><circle class="eg" cx="-42.5" cy="-20" r="3.8"/><text x="-42.5" y="-20">4</text></g>
<g id="E2-k21" class="n"><circle class="eg" cx="-36.2" cy="-30" r="3.8"/><text x="-36.2" y="-30">3</text></g>
<g id="E2-k22" class="n"><circle class="eg" cx="-27.6" cy="-38" r="3.8"/><text x="-27.6" y="-38">2</text></g>
<g id="E2-k23" class="n"><circle class="eg" cx="-17.3" cy="-43.7" r="3.8"/><text x="-17.3" y="-43.7">1</text></g>
<g id="E2-k24" class="n"><circle class="eg" cx="-5.9" cy="-46.6" r="3.8"/><text x="-5.9" y="-46.6">5</text></g>
</g>

<!-- Panel E layer 3 -->
<g id="panelE3" transform="translate(420.5,308)">
<g class="ed" id="E3-edges">
<line class="d" x1="-27.6" y1="-38" x2="42.5" y2="-20"/>
<line x1="-42.5" y1="-20" x2="17.3" y2="-43.7"/>
<line x1="-36.2" y1="-30" x2="-32.2" y2="34.3"/>
<line x1="5.9" y1="-46.6" x2="32.2" y2="34.3"/>
<line x1="17.3" y1="-43.7" x2="22.6" y2="41.2"/>
<line x1="-46.2" y1="-8.8" x2="39.7" y2="25.2"/>
<line x1="-46.9" y1="3" x2="32.2" y2="34.3"/>
<line x1="-32.2" y1="34.3" x2="46.2" y2="-8.8"/>
<line x1="-22.6" y1="41.2" x2="42.5" y2="-20"/>
<line x1="11.7" y1="45.5" x2="46.9" y2="3"/>
<line x1="-11.7" y1="45.5" x2="36.2" y2="-30"/>
</g>
<g id="E3-k0" class="n"><circle class="dk" cx="5.9" cy="-46.6" r="3.8"/><text x="5.9" y="-46.6">24</text></g>
<g id="E3-k1" class="n"><circle class="cy" cx="17.3" cy="-43.7" r="3.8"/><text x="17.3" y="-43.7">25</text></g>
<g id="E3-k2" class="n"><circle class="w" cx="27.6" cy="-38" r="3.8"/><text x="27.6" y="-38">23</text></g>
<g id="E3-k3" class="n"><circle class="w" cx="36.2" cy="-30" r="3.8"/><text x="36.2" y="-30">22</text></g>
<g id="E3-k4" class="n"><circle class="eg" cx="42.5" cy="-20" r="3.8"/><text x="42.5" y="-20">21</text></g>
<g id="E3-k5" class="n"><circle class="pu" cx="46.2" cy="-8.8" r="3.8"/><text x="46.2" y="-8.8">20</text></g>
<g id="E3-k6" class="n"><circle class="mg" cx="46.9" cy="3" r="3.8"/><text x="46.9" y="3">19</text></g>
<g id="E3-k7" class="n"><circle class="cy" cx="44.7" cy="14.5" r="3.8"/><text x="44.7" y="14.5">18</text></g>
<g id="E3-k8" class="n"><circle class="es" cx="39.7" cy="25.2" r="3.8"/><text x="39.7" y="25.2">17</text></g>
<g id="E3-k9" class="n"><circle class="pu" cx="32.2" cy="34.3" r="3.8"/><text x="32.2" y="34.3">16</text></g>
<g id="E3-k10" class="n"><circle class="cy" cx="22.6" cy="41.2" r="3.8"/><text x="22.6" y="41.2">15</text></g>
<g id="E3-k11" class="n"><circle class="mg" cx="11.7" cy="45.5" r="3.8"/><text x="11.7" y="45.5">14</text></g>
<g id="E3-k12" class="n"><circle class="w" cx="0" cy="47" r="3.8"/><text x="0" y="47">13</text></g>
<g id="E3-k13" class="n"><circle class="eg" cx="-11.7" cy="45.5" r="3.8"/><text x="-11.7" y="45.5">12</text></g>
<g id="E3-k14" class="n"><circle class="pu" cx="-22.6" cy="41.2" r="3.8"/><text x="-22.6" y="41.2">11</text></g>
<g id="E3-k15" class="n"><circle class="es" cx="-32.2" cy="34.3" r="3.8"/><text x="-32.2" y="34.3">10</text></g>
<g id="E3-k16" class="n"><circle class="es" cx="-39.7" cy="25.2" r="3.8"/><text x="-39.7" y="25.2">9</text></g>
<g id="E3-k17" class="n"><circle class="es" cx="-44.7" cy="14.5" r="3.8"/><text x="-44.7" y="14.5">7</text></g>
<g id="E3-k18" class="n"><circle class="es" cx="-46.9" cy="3" r="3.8"/><text x="-46.9" y="3">8</text></g>
<g id="E3-k19" class="n"><circle class="es" cx="-46.2" cy="-8.8" r="3.8"/><text x="-46.2" y="-8.8">6</text></g>
<g id="E3-k20" class="n"><circle class="eg" cx="-42.5" cy="-20" r="3.8"/><text x="-42.5" y="-20">4</text></g>
<g id="E3-k21" class="n"><circle class="eg" cx="-36.2" cy="-30" r="3.8"/><text x="-36.2" y="-30">3</text></g>
<g id="E3-k22" class="n"><circle class="eg" cx="-27.6" cy="-38" r="3.8"/><text x="-27.6" y="-38">2</text></g>
<g id="E3-k23" class="n"><circle class="eg" cx="-17.3" cy="-43.7" r="3.8"/><text x="-17.3" y="-43.7">1</text></g>
<g id="E3-k24" class="n"><circle class="eg" cx="-5.9" cy="-46.6" r="3.8"/><text x="-5.9" y="-46.6">5</text></g>
</g>
</svg>
